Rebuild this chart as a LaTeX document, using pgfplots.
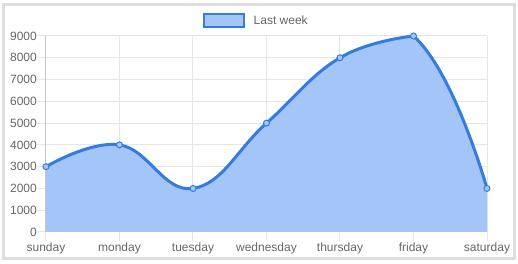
\documentclass[border=0pt]{standalone}
\usepackage{pgfplots}
\pgfplotsset{compat=1.18}
\usepackage{fontspec}
\setmainfont{Liberation Sans}
\definecolor{fillc}{RGB}{163,197,247}
\definecolor{linec}{RGB}{52,124,222}
\definecolor{labc}{RGB}{102,102,102}
\definecolor{gridc}{RGB}{230,230,230}
\definecolor{zeroc}{RGB}{200,200,200}
\definecolor{framec}{RGB}{222,222,222}
\begin{document}
\begin{tikzpicture}
\path[use as bounding box] (-46pt,-32pt) rectangle (472pt,232pt);
\draw[framec, line width=3pt] (-42.5pt,227.5pt) rectangle (468.5pt,-26.5pt);
\begin{axis}[
  scale only axis,
  width=441pt, height=196pt,
  xmin=0, xmax=6, ymin=0, ymax=9000,
  xtick={0,1,2,3,4,5,6},
  xticklabels={sunday,monday,tuesday,wednesday,thursday,friday,saturday},
  ytick={0,1000,2000,3000,4000,5000,6000,7000,8000,9000},
  /pgf/number format/assume math mode=true,
  /pgf/number format/1000 sep={},
  font=\fontsize{12}{14}\selectfont,
  tick label style={text=labc, inner sep=0pt},
  yticklabel style={anchor=east},
  xticklabel style={anchor=base, yshift=-10.5pt},
  grid=major,
  major grid style={draw=gridc, line width=1pt},
  tick align=outside,
  major tick length=9pt,
  every tick/.style={draw=gridc, line width=1pt},
  axis line style={draw=zeroc, line width=1pt},
  axis x line*=bottom, axis y line*=left,
  clip=false,
  legend style={draw=none, fill=none, inner sep=0pt, at={(0.356,1.079)}, anchor=west,
    column sep=7pt, font=\fontsize{12}{14}\selectfont, text=labc},
]
% sunday .. friday
\addplot[fill=fillc, draw=none, smooth, tension=0.72, forget plot] coordinates {
 (0,3000) (1,4000) (2,2000) (3,5000) (4,8000) (5,9000)} \closedcycle;
\addplot[draw=linec, line width=3pt, smooth, tension=0.72, forget plot] coordinates {
 (0,3000) (1,4000) (2,2000) (3,5000) (4,8000) (5,9000)};
% friday .. saturday
\begin{scope}
\clip (axis cs:4.99,-200) rectangle (axis cs:6.05,9600);
\addplot[fill=fillc, draw=none, smooth, tension=1, forget plot] coordinates {
 (4,8000) (5,9000) (6,2000)} \closedcycle;
\addplot[draw=linec, line width=3pt, smooth, tension=1, forget plot] coordinates {
 (4,8000) (5,9000) (6,2000)};
\end{scope}
\addplot[only marks, mark=*, mark size=3pt, mark options={fill=fillc, draw=linec, line width=1pt},
  legend image code/.code={\draw[fill=fillc, draw=linec, line width=1.5pt] (0pt,-6.5pt) rectangle (40pt,6.5pt);}] coordinates {
 (0,3000) (1,4000) (2,2000) (3,5000) (4,8000) (5,9000) (6,2000)};
\addlegendentry{Last week}
\end{axis}
\end{tikzpicture}
\end{document}
